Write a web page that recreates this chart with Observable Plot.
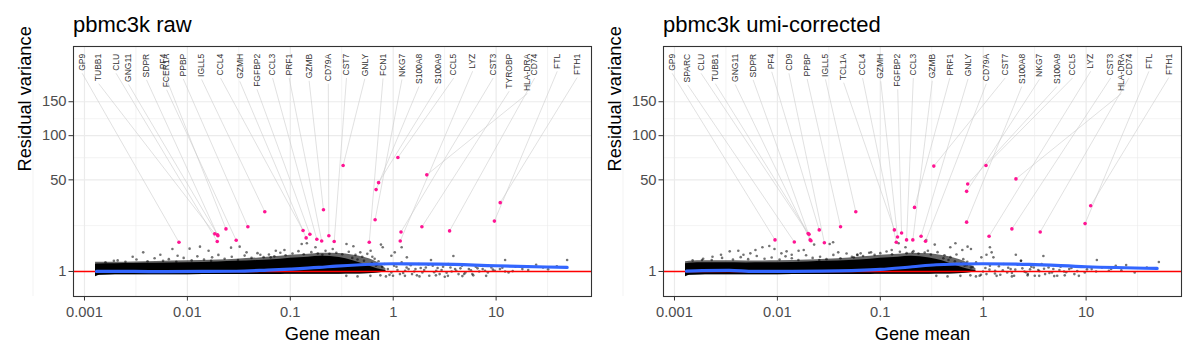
<!DOCTYPE html>
<html>
<head>
<meta charset="utf-8">
<script src="https://cdn.jsdelivr.net/npm/d3@7"></script>
<script src="https://cdn.jsdelivr.net/npm/@observablehq/plot@0.6"></script>
<style>
  body { margin: 0; background: #fff; font-family: "Liberation Sans", Arial, sans-serif; }
  #wrap { display: flex; width: 1200px; height: 360px; }
  .col { width: 600px; height: 360px; }
  .title { height: 40px; box-sizing: border-box; padding-top: 14px; font-size: 22px; line-height: 22px; color: #000; white-space: nowrap; }
  svg { display: block; }
</style>
</head>
<body>
<div id="wrap">
  <div class="col" id="left"><div class="title" style="padding-left:73px">pbmc3k raw</div></div>
  <div class="col" id="right"><div class="title" style="padding-left:63px">pbmc3k umi-corrected</div></div>
</div>
<script>
// ---------- shared axis values ----------
const xTicks = [0.001, 0.01, 0.1, 1, 10];
const xMinor = [0.000316, 0.00316, 0.0316, 0.316, 3.16, 31.6];
const yTicks = [1, 50, 100, 150];
const yMinor = [16.29, 72.9, 123.7];
const xDomain = [0.000782, 84.5];
const yDomain = [-0.4356, 253.1];
const labelTop = 238;

// ---------- pbmc3k raw ----------
const rawGenes = ["GP9","TUBB1","CLU","GNG11","SDPR","PF4","FCER1A","PPBP","IGLL5","CCL4","GZMH","FGFBP2","CCL3","PRF1","GZMB","CD79A","CST7","GNLY","FCN1","NKG7","S100A8","S100A9","CCL5","LYZ","CST3","TYROBP","HLA-DRA","CD74","FTL","FTH1"];
const rawLabelX = [0.00095,0.001375,0.002027,0.002682,0.004006,0.005875,0.006285,0.00912,0.01374,0.02099,0.03228,0.04745,0.0673,0.0975,0.1524,0.234,0.3516,0.5297,0.7962,1.216,1.778,2.711,3.873,5.912,9.376,13.39,20.14,23.67,39.25,61.27];
const rawMean = [0.00828,0.01845,0.0195,0.0196,0.0198,0.0237,0.0298,0.0387,0.0565,0.133,0.1425,0.155,0.181,0.2018,0.21,0.237,0.267,0.326,0.585,0.667,0.682,0.721,1.11,1.17,1.19,1.9,2.12,3.53,9.62,10.96];
const rawVar = [8.6,12.2,8.9,11.8,11.3,14.6,9.4,15.7,24.6,13.8,10.4,12.0,9.8,9.1,25.9,11.3,8.9,64.4,8.6,19.6,41.3,47.4,73.2,9.1,13.1,15.7,54.8,13.6,18.8,30.9];

const rawBandMean = [0.00128,0.0014,0.002,0.003,0.005,0.01,0.02,0.03,0.05,0.08,0.1,0.15,0.2,0.3,0.4,0.55,0.7,0.85];
const rawBandTop  = [2.6,2.6,2.6,2.65,2.75,2.9,3.1,3.3,3.6,4.0,4.3,4.6,4.9,4.8,4.4,3.6,2.6,1.4];
const rawBandCore = [2.2,2.25,2.3,2.35,2.4,2.5,2.65,2.8,3.0,3.3,3.5,3.8,4.0,3.7,3.0,2.0,1.4,1.1];
const rawBandLow  = [0.42,0.55,0.6,0.62,0.62,0.62,0.63,0.64,0.64,0.65,0.66,0.66,0.66,0.66,0.68,0.72,0.8,0.95];

const rawCloudMean = [0.00193,0.00294,0.00372,0.00546,0.00715,0.00803,0.01051,0.01325,0.01607,0.01738,0.02655,0.03221,0.03758,0.05116,0.06442,0.07228,0.0877,0.129,0.1448,0.1757,0.205,0.2584,0.3516,0.4102,0.4786,0.6034,0.6266,0.7603,0.7906,0.9594,1.035,1.208,1.357,2.329,3.843,12.23,48.98,
  0.8222,0.8872,0.9594,0.9954,1.076,1.162,1.208,1.305,1.41,1.524,1.645,1.778,1.92,2.075,2.241,2.421,2.615,2.825,3.051,3.17,3.424,3.698,3.994,4.314,4.66,5.033,5.436,5.872,6.342,6.851,7.4,8.312,8.978,9.698,10.89,12.23,13.21,15.42,17.99,24.49,28.57,38.9,
  1.02,1.1,1.25,1.35,1.48,1.6,1.7,1.85,2.0,2.2,2.5,2.7,2.95,3.3,3.6,4.1,4.5,4.9,5.7,6.6,7.8,9.3,11.5,14.5,20.5,32,
  0.0016,0.0021,0.0025,0.0032,0.0041,0.0048,0.0058,0.0066,0.0078,0.0092,0.011,0.0125,0.0145,0.017,0.02,0.023,0.027,0.031,0.036,0.042,0.048,0.055,0.062,0.07,0.08,0.09,0.105,0.12,0.135,0.16,0.185,0.22,0.24,0.28,0.32,0.37,0.43,0.5,0.56,0.66,0.72,
  0.35,0.45,0.6,0.75,0.85,0.92,1.3,1.8,2.6,3.4,4.7,6.0,8.0,
  0.45,0.52,0.62,0.7,0.78,0.4,0.58,0.68];
const rawCloudVar = [2.93,3.91,5.14,4.46,6.2,4.18,6.31,6.99,5.65,3.74,6.65,6.99,5.14,4.46,3.74,5.65,5.87,7.97,8.22,6.76,4.46,6.2,7.97,7.11,5.14,5.65,3.91,7.72,6.76,4.18,5.14,6.76,3.74,3.08,4.09,3.08,3.08,
  2.22,1.34,0.87,0.51,1.72,0.68,2.56,1.09,1.34,0.68,1.34,2.22,0.87,1.6,0.51,1.9,1.09,0.68,1.72,0.42,2.22,1.0,1.34,0.68,1.9,0.87,1.34,0.68,1.72,1.0,1.34,0.87,1.6,1.09,1.34,1.0,0.87,1.72,1.34,2.09,1.6,1.78,
  1.9,1.2,0.8,1.6,2.0,1.0,0.55,1.5,1.2,2.1,0.9,1.5,1.2,0.85,1.6,1.1,1.45,0.7,1.15,1.45,1.1,1.25,1.55,1.05,1.2,1.3,
  2.6,3.0,2.7,3.2,2.8,3.5,2.9,3.3,2.7,3.6,3.0,4.0,3.2,2.9,4.4,3.4,3.9,3.1,4.2,3.6,4.9,3.8,4.5,4.0,5.0,4.3,4.8,5.5,4.6,5.2,4.8,5.6,4.7,5.0,4.6,5.3,4.4,3.9,4.7,3.4,2.8,
  0.5,0.45,0.5,0.55,0.45,0.6,0.5,0.45,0.55,0.5,0.48,0.55,0.5,
  3.2,2.9,2.4,2.1,1.7,3.6,1.6,1.9];

const rawTrendMean = [0.00131,0.003,0.006,0.015,0.03,0.06,0.1,0.19,0.28,0.48,1,2.8,10,49];
const rawTrendVar  = [1.0,1.0,0.98,1.0,1.03,1.19,1.34,1.6,1.84,2.09,2.28,2.22,1.9,1.6];

// ---------- pbmc3k umi-corrected ----------
const umiGenes = ["GP9","SPARC","CLU","TUBB1","GNG11","SDPR","PF4","CD9","PPBP","IGLL5","TCL1A","CCL4","GZMH","FGFBP2","CCL3","GZMB","PRF1","GNLY","CD79A","CST7","S100A8","NKG7","S100A9","CCL5","LYZ","CST3","HLA-DRA","CD74","FTL","FTH1"];
const umiLabelX = [0.000949,0.001343,0.001811,0.002491,0.003887,0.005809,0.008812,0.01295,0.01946,0.02931,0.04407,0.06726,0.101,0.1476,0.2093,0.32,0.4741,0.713,1.072,1.634,2.37,3.516,5.201,7.381,11.09,17.33,22.0,26.09,40.73,63.6];
const umiMean = [0.00948,0.0146,0.0199,0.0203,0.0208,0.0212,0.0255,0.0286,0.0411,0.0578,0.137,0.143,0.147,0.161,0.18,0.207,0.215,0.249,0.275,0.331,0.69,0.69,0.707,1.064,1.14,1.9,2.08,3.58,9.77,11.07];
const umiVar = [9.55,8.74,12.3,12.0,9.55,9.2,14.1,8.4,15.7,24.6,14.1,8.6,10.8,12.6,9.55,9.55,27.5,11.1,9.0,63.7,18.2,39.8,46.2,64.4,11.1,14.6,50.9,13.1,17.4,28.7];

const umiBandMean = [0.00128,0.0014,0.002,0.003,0.005,0.01,0.02,0.03,0.05,0.08,0.1,0.15,0.2,0.3,0.4,0.55,0.7,0.85];
const umiBandTop  = [2.7,2.8,2.9,2.9,2.85,2.9,3.1,3.3,3.6,4.0,4.3,4.6,4.9,4.7,4.2,3.4,2.5,1.4];
const umiBandCore = [2.3,2.4,2.5,2.5,2.45,2.5,2.65,2.8,3.0,3.3,3.5,3.8,4.0,3.6,2.9,1.9,1.35,1.1];
const umiBandLow  = [0.42,0.55,0.6,0.62,0.62,0.62,0.63,0.64,0.64,0.65,0.66,0.66,0.66,0.66,0.68,0.72,0.8,0.95];

const umiCloudMean = [0.00185,0.00234,0.00283,0.00344,0.00417,0.00468,0.00546,0.00612,0.00715,0.00834,0.00937,0.01094,0.01228,0.01378,0.01607,0.01803,0.02275,0.02553,0.03221,0.03478,0.03902,0.05521,0.05967,0.06442,0.08128,0.129,0.1507,0.1757,0.205,0.2793,0.29,0.3381,0.4786,0.537,0.6266,0.7047,0.7603,0.9594,1.076,1.162,1.208,2.075,2.329,3.843,12.71,50.9,
  0.7603,0.853,0.923,0.9954,1.076,1.162,1.256,1.305,1.466,1.583,1.71,1.847,1.995,2.155,2.329,2.513,2.715,2.932,3.17,3.424,3.698,3.994,4.314,4.66,5.236,5.65,6.105,6.851,7.69,8.63,9.698,11.32,14.26,16.64,19.41,24.49,29.65,38.9,
  1.05,1.15,1.3,1.42,1.55,1.75,1.9,2.05,2.4,2.6,2.85,3.1,3.5,3.9,4.4,4.8,5.5,6.4,7.2,8.2,10.2,12.5,17.5,22,
  0.0015,0.0019,0.0023,0.0029,0.0037,0.0044,0.0052,0.0063,0.0075,0.0088,0.0105,0.012,0.0138,0.016,0.019,0.022,0.026,0.03,0.035,0.041,0.047,0.053,0.06,0.068,0.078,0.088,0.1,0.115,0.13,0.155,0.18,0.21,0.235,0.27,0.31,0.36,0.42,0.48,0.55,0.64,0.7,
  0.35,0.45,0.6,0.75,0.85,0.95,1.35,1.9,2.7,3.5,4.9,6.2,8.5,
  0.46,0.53,0.61,0.69,0.79,0.41,0.57,0.66];
const umiCloudVar = [3.08,3.91,4.46,5.44,5.65,4.46,4.84,5.87,6.76,7.23,6.2,4.84,5.44,4.46,5.65,5.87,7.72,3.08,7.97,8.6,5.14,3.74,4.46,4.84,5.14,5.87,8.22,6.76,5.14,9.54,5.65,7.72,6.76,8.22,5.87,6.99,6.2,3.74,4.46,6.76,5.14,4.46,2.93,4.09,3.08,2.63,
  1.6,2.56,0.51,1.0,0.68,1.9,3.74,1.09,0.61,2.22,0.87,1.34,0.51,2.09,2.93,1.0,0.68,1.72,0.51,1.19,2.22,0.68,1.6,0.87,0.51,1.72,1.0,1.34,0.68,1.72,0.87,1.34,1.6,1.09,1.9,2.02,0.87,1.6,
  1.5,1.25,0.75,1.8,1.15,1.55,0.8,1.25,1.45,0.9,1.3,1.6,1.05,1.4,0.8,1.35,1.2,0.9,1.5,1.05,1.3,1.0,1.35,1.15,
  3.0,3.4,3.1,3.6,3.2,3.8,3.3,4.1,3.4,3.7,3.2,4.0,3.5,3.1,4.3,3.6,3.9,3.3,4.4,3.5,4.8,3.9,4.4,4.1,5.0,4.4,4.9,5.4,4.6,5.3,4.9,5.5,4.8,5.1,4.5,5.2,4.3,3.8,4.5,3.3,2.7,
  0.5,0.45,0.5,0.55,0.45,0.6,0.5,0.45,0.55,0.5,0.48,0.55,0.5,
  3.1,2.8,2.3,2.0,1.7,3.5,1.6,1.9];

const umiTrendMean = [0.00131,0.00185,0.0034,0.0059,0.0128,0.06,0.1,0.205,0.35,1,2.8,10,49];
const umiTrendVar  = [1.05,1.12,1.15,1.0,1.02,1.15,1.28,1.72,2.09,2.28,2.15,1.72,1.44];

// ---------- drawing ----------
const FONT = '"Liberation Sans", Arial, sans-serif';
const labelFont = 8.5;

function makePanel(cfg) {
  const H = 320, mt = 6, mb = 64;
  const yOpts = {type: "pow", exponent: 0.5, domain: yDomain, range: [H - mb, mt]};
  const ys = Plot.scale({y: yOpts});
  const ctx = document.createElement("canvas").getContext("2d");
  ctx.font = `${labelFont}px ${FONT}`;
  const topPx = ys.apply(labelTop);
  const genes = cfg.genes.map((g, i) => ({
    gene: g, lx: cfg.labelX[i], mean: cfg.mean[i], v: cfg.variance[i],
    ly: ys.invert(topPx + ctx.measureText(g).width + 2.5)
  }));
  const band = cfg.bandMean.map((m, i) => ({m, low: cfg.bandLow[i], core: cfg.bandCore[i], top: cfg.bandTop[i]}));
  const cloud = cfg.cloudMean.map((m, i) => ({m, v: cfg.cloudVar[i]}));
  const trend = cfg.trendMean.map((m, i) => ({m, v: cfg.trendVar[i]}));

  return Plot.plot({
    width: 600, height: H,
    marginLeft: cfg.ml, marginRight: cfg.mr, marginTop: mt, marginBottom: mb,
    style: {fontFamily: FONT, fontSize: "14.7px", background: "#fff", overflow: "visible"},
    x: {type: "log", domain: xDomain},
    y: yOpts,
    marks: [
      Plot.gridX(xMinor, {stroke: "#EBEBEB", strokeOpacity: 1, strokeWidth: 0.6}),
      Plot.gridY(yMinor, {stroke: "#EBEBEB", strokeOpacity: 1, strokeWidth: 0.6}),
      Plot.gridX(xTicks, {stroke: "#EBEBEB", strokeOpacity: 1, strokeWidth: 1.2}),
      Plot.gridY(yTicks, {stroke: "#EBEBEB", strokeOpacity: 1, strokeWidth: 1.2}),
      Plot.areaY(band, {x: "m", y1: "low", y2: "top", fill: "#000", fillOpacity: 0.6, curve: "monotone-x"}),
      Plot.areaY(band, {x: "m", y1: "low", y2: "core", fill: "#000", fillOpacity: 1, curve: "monotone-x"}),
      Plot.dot(cloud, {x: "m", y: "v", r: 1.3, fill: "#000", fillOpacity: 0.55, stroke: "none"}),
      Plot.link(genes, {x1: "lx", y1: "ly", x2: "mean", y2: "v", stroke: "#C8C8C8", strokeWidth: 0.55}),
      Plot.ruleY([1], {stroke: "#FF0000", strokeWidth: 1.6}),
      Plot.line(trend, {x: "m", y: "v", stroke: "#3366FF", strokeWidth: 3.2, curve: "monotone-x"}),
      Plot.dot(genes, {x: "mean", y: "v", r: 1.8, fill: "#FF1493", stroke: "none"}),
      Plot.text(genes, {x: "lx", y: () => labelTop, text: "gene", rotate: -90, textAnchor: "end", fontSize: labelFont, fill: "#333"}),
      Plot.frame({stroke: "#333333", strokeWidth: 1.1}),
      Plot.axisX(xTicks, {tickSize: 4.5, tickPadding: 6, fontSize: 14.7, stroke: "#333333", fill: "#4D4D4D", label: null, tickFormat: d => String(d)}),
      Plot.axisY(yTicks, {tickSize: 4.5, tickPadding: 2.5, fontSize: 14.7, stroke: "#333333", fill: "#4D4D4D", label: null, tickFormat: d => String(d)}),
      Plot.text(["Gene mean"], {frameAnchor: "bottom", dy: 43.5, fontSize: 18.3, fill: "#000"}),
      Plot.text(["Residual variance"], {frameAnchor: "left", dx: -48, rotate: -90, fontSize: 18.3, fill: "#000"})
    ]
  });
}

document.getElementById("left").appendChild(makePanel({
  ml: 73, mr: 9,
  genes: rawGenes, labelX: rawLabelX, mean: rawMean, variance: rawVar,
  bandMean: rawBandMean, bandLow: rawBandLow, bandCore: rawBandCore, bandTop: rawBandTop,
  cloudMean: rawCloudMean, cloudVar: rawCloudVar,
  trendMean: rawTrendMean, trendVar: rawTrendVar
}));
document.getElementById("right").appendChild(makePanel({
  ml: 63, mr: 19,
  genes: umiGenes, labelX: umiLabelX, mean: umiMean, variance: umiVar,
  bandMean: umiBandMean, bandLow: umiBandLow, bandCore: umiBandCore, bandTop: umiBandTop,
  cloudMean: umiCloudMean, cloudVar: umiCloudVar,
  trendMean: umiTrendMean, trendVar: umiTrendVar
}));
</script>
</body>
</html>
